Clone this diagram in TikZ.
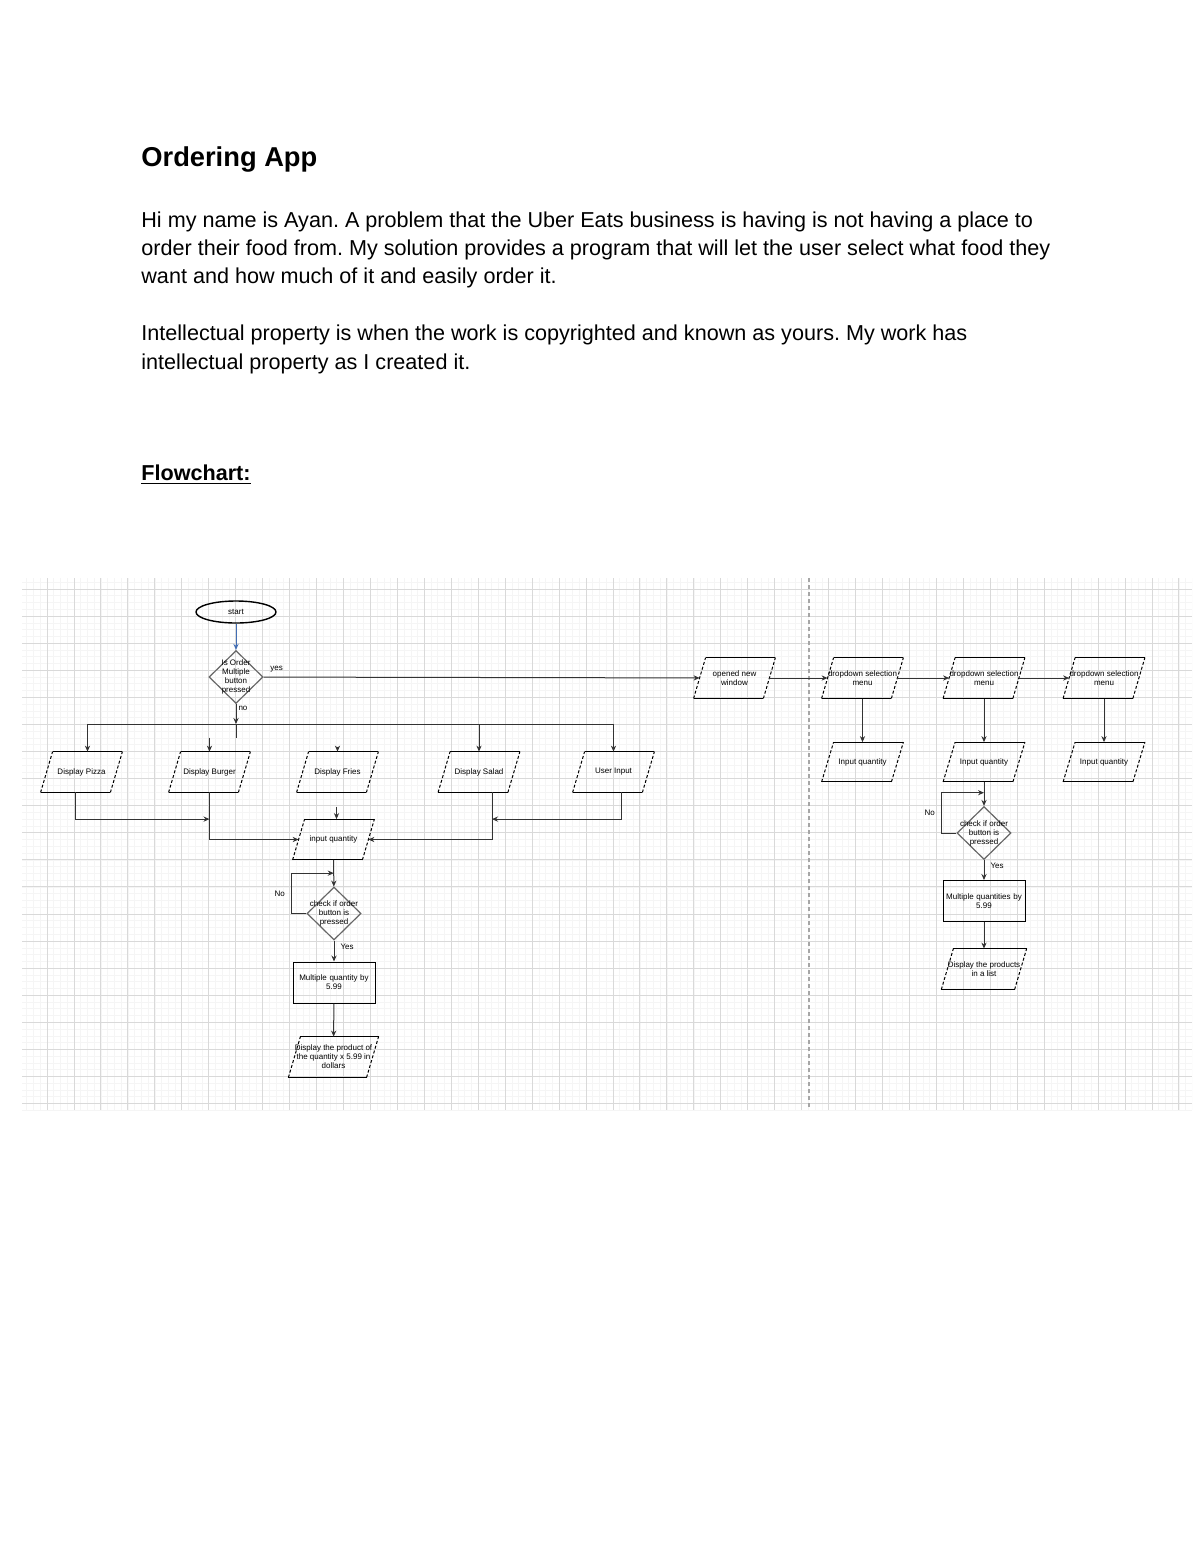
\documentclass[tikz,border=0pt]{standalone}
\usepackage{fontspec}
\setmainfont{Liberation Sans}
\usetikzlibrary{shapes.geometric,arrows.meta,calc}
\definecolor{startblue}{RGB}{66,110,180}
\newcommand\chartfont{\fontsize{4}{4.5}\selectfont}
\frenchspacing
\tikzset{
  majorgrid/.style={draw=black!15, line width=0.45pt},
  minorgrid/.style={draw=black!4, line width=0.3pt},
  bodytext/.style={anchor=base west, inner sep=0pt, font=\fontsize{10.8}{13}\selectfont},
  arr/.style={-{Stealth[length=3pt,width=2.6pt]}, draw=black!80, line width=0.5pt},
  io/.style={rectangle, minimum width=34.5pt, minimum height=20pt, inner sep=0pt,
    align=center, font=\chartfont},
  ioside/.style={line width=0.5pt, dash pattern=on 1.5pt off 1pt},
  decision/.style={diamond, draw=black!60, line width=0.6pt, minimum width=27pt,
    minimum height=26.5pt, inner sep=0pt},
  proc/.style={rectangle, draw, line width=0.5pt, minimum width=41pt, minimum height=20.5pt,
    text width=40pt, inner sep=0.5pt, align=center, font=\chartfont},
  term/.style={ellipse, draw, line width=0.7pt, minimum width=40pt, minimum height=11pt,
    inner sep=0pt, font=\chartfont},
  dtext/.style={font=\chartfont, align=center, inner sep=0pt}
}
\begin{document}
\begin{tikzpicture}[x=0.5pt, y=-0.5pt]
  \useasboundingbox (0,0) rectangle (1200,1553);
  \fill[white] (0,0) rectangle (1200,1553);
  % Heading and text
  \node[anchor=base west, inner sep=0pt, font=\fontsize{13.65}{16}\selectfont\bfseries] (title) at (141,166) {Ordering App};
  \foreach \n/\y/\txt in {l1/227/{Hi my name is Ayan. A problem that the Uber Eats business is having is not having a place to},
      l2/255.4/{order their food from. My solution provides a program that will let the user select what food they},
      l3/283.8/{want and how much of it and easily order it.},
      l4/340.6/{Intellectual property is when the work is copyrighted and known as yours. My work has},
      l5/369/{intellectual property as I created it.}}{
    \node[bodytext] (\n) at (141,\y) {\txt};
  }
  \node[bodytext, font=\fontsize{10.8}{13}\selectfont\bfseries] (flow) at (141,480) {\underline{Flowchart:}};
  % Grid
  \begin{scope}
    \clip (22,578) rectangle (1192,1110);
    \foreach \k in {-4,...,172} \draw[minorgrid] ({47+6.7375*\k},578) -- ({47+6.7375*\k},1110);
    \foreach \k in {-2,...,80} \draw[minorgrid] (22,{589+6.77*\k}) -- (1192,{589+6.77*\k});
    \foreach \k in {-1,...,43} \draw[majorgrid] ({47+26.95*\k},578) -- ({47+26.95*\k},1110);
    \foreach \k in {-1,...,20} \draw[majorgrid] (22,{589+27.08*\k}) -- (1192,{589+27.08*\k});
  \end{scope}
  \draw[black!35, line width=0.6pt, dash pattern=on 2pt off 1.5pt] (809,578) -- (809,1110);
  % Left flow
  \node[term] (start) at (236,612) {start};
  \node[decision, label={[dtext]center:{Is Order\\Multiple\\button\\pressed}}] (multi) at (236,677) {};
  \foreach \n/\x/\txt in {pizza/81.5/Display Pizza, burger/209.5/Display Burger, fries/337.5/Display Fries,
      salad/479/Display Salad, user/613.5/User Input}
    \node[io] (\n) at (\x,772) {\txt};
  \node[io] (qtyL) at (333.5,839.5) {input quantity};
  \node[decision, label={[dtext]center:{check if order\\button is\\pressed}}] (checkL) at (334,913.5) {};
  \node[proc] (multL) at (334,982.5) {Multiple quantity by\\5.99};
  \node[io] (showL) at (333.5,1057) {Display the product of\\the quantity x 5.99 in\\dollars};
  % Right flow
  \node[io] (window) at (734.5,678) {opened new\\window};
  \foreach \i/\x in {1/862.5,2/984,3/1104} {
    \node[io] (drop\i) at (\x,678) {dropdown selection\\menu};
    \node[io, minimum height=19.5pt] (qty\i) at (\x,762) {Input quantity};
    \draw[arr] (drop\i) -- (qty\i);
  }
  \node[decision, label={[dtext]center:{check if order\\button is\\pressed}}] (checkR) at (984,833) {};
  \node[proc] (multR) at (984,901) {Multiple quantities by\\5.99};
  \node[io] (showR) at (984,969) {Display the products\\in a list};
  % parallelograms: dashed sides, solid top and bottom
  \foreach \n in {pizza,burger,fries,salad,user,qtyL,showL,window,drop1,drop2,drop3,qty1,qty2,qty3,showR}{
    \draw[ioside] ([xshift=-3pt]\n.south west) -- ([xshift=3pt]\n.north west)
      ([xshift=-3pt]\n.south east) -- ([xshift=3pt]\n.north east);
    \draw[line width=0.5pt] ([xshift=3pt]\n.north west) -- ([xshift=3pt]\n.north east)
      ([xshift=-3pt]\n.south west) -- ([xshift=-3pt]\n.south east);
  }
  % Connectors
  \coordinate (split) at (236,724);
  \draw[arr, draw=startblue] (start) -- (multi);
  \draw[arr] (multi) -- node[pos=0.03, above, dtext, yshift=2pt] {yes} (window);
  \draw[arr] (multi) -- node[pos=0.2, right, dtext, xshift=1pt] {no} (split);
  \draw[line width=0.5pt, black!80] (split) -- ++(0,14);
  \draw[arr] (split) -| ([xshift=3pt]pizza.north);
  \draw[arr] (split) -| (salad);
  \draw[arr] (split) -| (user);
  \draw[arr] (burger.north) ++(0,-14) -- (burger);
  \draw[arr] (fries.north) ++(0,-5) -- (fries);
  \draw[arr] ([xshift=-3pt]pizza.south) |- (burger.south |- qtyL.north);
  \draw[arr] (burger) |- (qtyL.west);
  \draw[arr] ([xshift=3.75pt]user.south) |- ([xshift=6.5pt]salad.south |- qtyL.north);
  \draw[arr] ([xshift=6.5pt]salad.south) |- (qtyL.east);
  \draw[arr] ([xshift=1.5pt]qtyL.north) ++(0,-12) -- ([xshift=1.5pt]qtyL.north);
  \coordinate (loopL) at ($(qtyL.south)!0.5!(checkL.north)$);
  \draw[arr] (qtyL) -- (checkL);
  \draw[arr] (checkL.west) -- ++(-15,0) |- node[pos=0.25, left, dtext, xshift=-3pt] {No} (loopL);
  \draw[arr] (checkL) -- node[pos=0.3, right, dtext, xshift=3pt] {Yes} (multL);
  \draw[arr] (multL) -- (showL);
  \draw[arr] (window) -- (drop1);
  \draw[arr] (drop1) -- (drop2);
  \draw[arr] (drop2) -- (drop3);
  \coordinate (loopR) at ($(qty2.south)!0.45!(checkR.north)$);
  \draw[arr] (qty2) -- (checkR);
  \draw[arr] (checkR.west) -- ++(-15,0) |- node[pos=0.25, left, dtext, xshift=-3pt] {No} (loopR);
  \draw[arr] (checkR) -- node[pos=0.3, right, dtext, xshift=3pt] {Yes} (multR);
  \draw[arr] (multR) -- (showR);
\end{tikzpicture}
\end{document}
